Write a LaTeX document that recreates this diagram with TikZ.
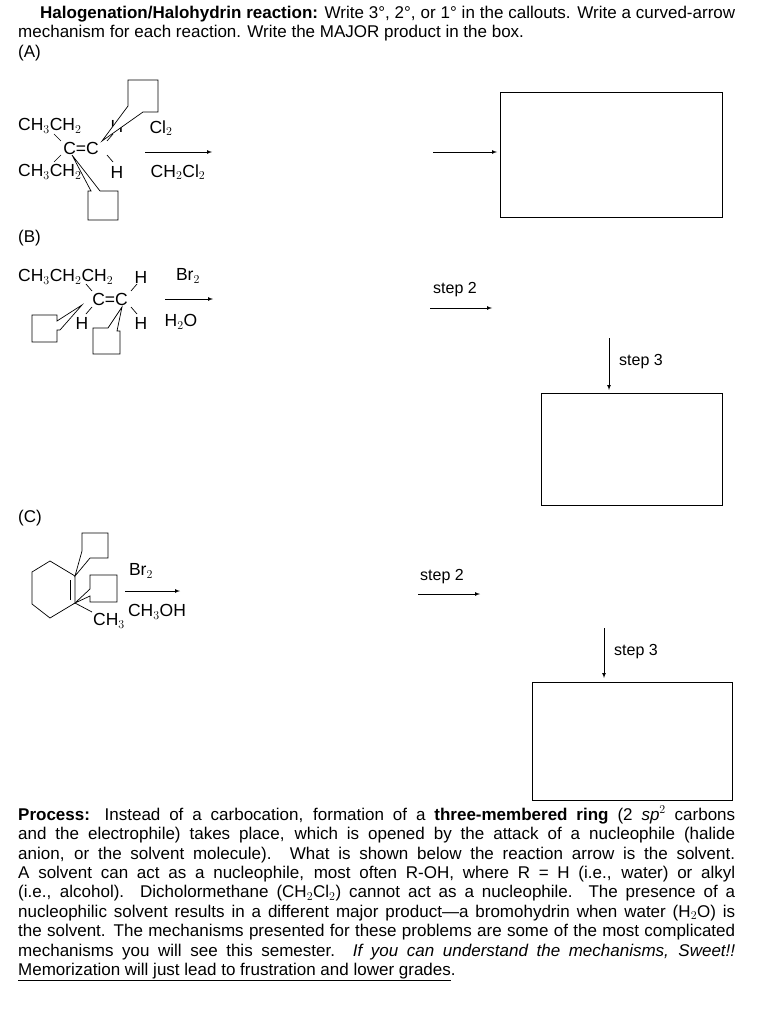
\documentclass[tikz,border=0pt]{standalone}
\usepackage{fontspec}
\setmainfont{Liberation Sans}
\hyphenpenalty=10000
\exhyphenpenalty=10000
\emergencystretch=30pt
\begin{document}
\begin{tikzpicture}[x=1pt,y=-1pt,
  chem/.style={inner sep=0pt,font=\fontsize{17.5}{17.5}\selectfont},
  lbl/.style={inner sep=0pt,anchor=west,font=\fontsize{17}{17}\selectfont},
  stp/.style={inner sep=0pt,anchor=west,font=\fontsize{16}{16}\selectfont},
  rx/.style={-latex,line width=0.7pt},
  bd/.style={line width=0.7pt},
  answerbox/.style={draw,line width=0.7pt},
  callout/.style={draw,line width=0.7pt,fill=white},
  para/.style={anchor=north west,inner sep=0pt,text width=717pt,align=justify,
    font=\fontsize{17}{19.4}\selectfont}]
\useasboundingbox (0,0) rectangle (758,1024);
% title
\node[para] (title) at (18,6)
 {\hspace*{22pt}\textbf{Halogenation/Halohydrin reaction:} Write 3°, 2°, or 1° in the callouts. Write a curved-arrow mechanism for each reaction. Write the MAJOR product in the box.\\(A)};
% (A)
\node[chem,anchor=west] (a1) at (18,126) {CH$_3$CH$_2$};
\node[chem] (ah1) at (117,126) {H};
\node[chem] (ac) at (81,148) {C=C};
\node[chem,anchor=west] (a2) at (18,172) {CH$_3$CH$_2$};
\node[chem] (ah2) at (117,172) {H};
\draw[bd] (54,134)--(61,141) (54,162)--(61,155) (107,141)--(113,134) (107,155)--(113,162);
\draw[callout] (128,80)--(158,80)--(158,112)--(143,112)--(102,141)--(128,106)--cycle;
\draw[callout] (88,191)--(91,191)--(72,155)--(100,191)--(118,191)--(118,220)--(88,220)--cycle;
\node[chem] (acl) at (161,128) {Cl$_2$};
\coordinate (aa1) at (145,152); \coordinate (aa2) at (212,152);
\draw[rx] (aa1)--(aa2);
\node[chem] (asol) at (178,172) {CH$_2$Cl$_2$};
\coordinate (ab1) at (433,152); \coordinate (ab2) at (497,152);
\draw[rx] (ab1)--(ab2);
\node[answerbox,minimum width=222pt,minimum height=125pt,anchor=north west] (boxA) at (500,92) {};
% (B)
\node[lbl] (Bl) at (18,238) {(B)};
\node[chem,anchor=west] (b1) at (18,277) {CH$_3$CH$_2$CH$_2$};
\node[chem] (bh1) at (141,277) {H};
\node[chem] (bc) at (110,299) {C=C};
\node[chem] (bh2) at (82,323) {H};
\node[chem] (bh3) at (141,323) {H};
\draw[bd] (86,284)--(92,291) (131,291)--(137,284) (131,307)--(137,314) (86,314)--(92,307);
\draw[callout] (32,315)--(57,315)--(57,321)--(82,305)--(60,330)--(57,330)--(57,342)--(32,342)--cycle;
\draw[callout] (93,328)--(108,328)--(122,307)--(117,331)--(120,331)--(120,354)--(93,354)--cycle;
\node[chem] (bbr) at (188,276) {Br$_2$};
\coordinate (ba1) at (165,299); \coordinate (ba2) at (213,299);
\draw[rx] (ba1)--(ba2);
\node[chem] (bsol) at (181,322) {H$_2$O};
\node[stp] (bs2) at (433,290) {step 2};
\coordinate (bb1) at (430,308); \coordinate (bb2) at (492,308);
\draw[rx] (bb1)--(bb2);
\coordinate (bv1) at (609,338); \coordinate (bv2) at (609,390);
\draw[rx] (bv1)--(bv2);
\node[stp] (bs3) at (619,362) {step 3};
\node[answerbox,minimum width=181pt,minimum height=112pt,anchor=north west] (boxB) at (541,393) {};
% (C)
\node[lbl] (Cl) at (18,518) {(C)};
\draw[bd] (75,576)--(50,561)--(32,572)--(32,604)--(50,618)--(75,603)--cycle;
\draw[bd] (70,580)--(70,600);
\draw[bd] (75,603)--(92,612);
\draw[callout] (82,533)--(108,533)--(108,558)--(90,558)--(75,576)--(82,551)--cycle;
\draw[callout] (90,575)--(117,575)--(117,602)--(90,602)--(90,596)--(75,603)--(90,589)--cycle;
\node[chem,anchor=west] (cme) at (93,621) {CH$_3$};
\node[chem] (cbr) at (141,571) {Br$_2$};
\coordinate (ca1) at (125,591); \coordinate (ca2) at (180,591);
\draw[rx] (ca1)--(ca2);
\node[chem] (csol) at (157,612) {CH$_3$OH};
\node[stp] (cs2) at (420,577) {step 2};
\coordinate (cb1) at (418,594); \coordinate (cb2) at (480,594);
\draw[rx] (cb1)--(cb2);
\coordinate (cv1) at (604,628); \coordinate (cv2) at (604,678);
\draw[rx] (cv1)--(cv2);
\node[stp] (cs3) at (614,652) {step 3};
\node[answerbox,minimum width=200pt,minimum height=118pt,anchor=north west] (boxC) at (532,682) {};
% process
\node[para] (proc) at (18,806)
 {\textbf{Process:} Instead of a carbocation, formation of a \textbf{three-membered ring} (2 \textit{sp}$^2$ carbons and the electrophile) takes place, which is opened by the attack of a nucleophile (halide anion, or the solvent molecule). What is shown below the reaction arrow is the solvent. A solvent can act as a nucleophile, most often R-OH, where R = H (i.e., water) or alkyl (i.e., alcohol). Dicholormethane (CH$_2$Cl$_2$) cannot act as a nucleophile. The presence of a nucleophilic solvent results in a different major product---a bromohydrin when water (H$_2$O) is the solvent. The mechanisms presented for these problems are some of the most complicated mechanisms you will see this semester. \textit{If you can understand the mechanisms, Sweet!!} \underline{Memorization will just lead to frustration and lower grades}.};
\end{tikzpicture}
\end{document}
